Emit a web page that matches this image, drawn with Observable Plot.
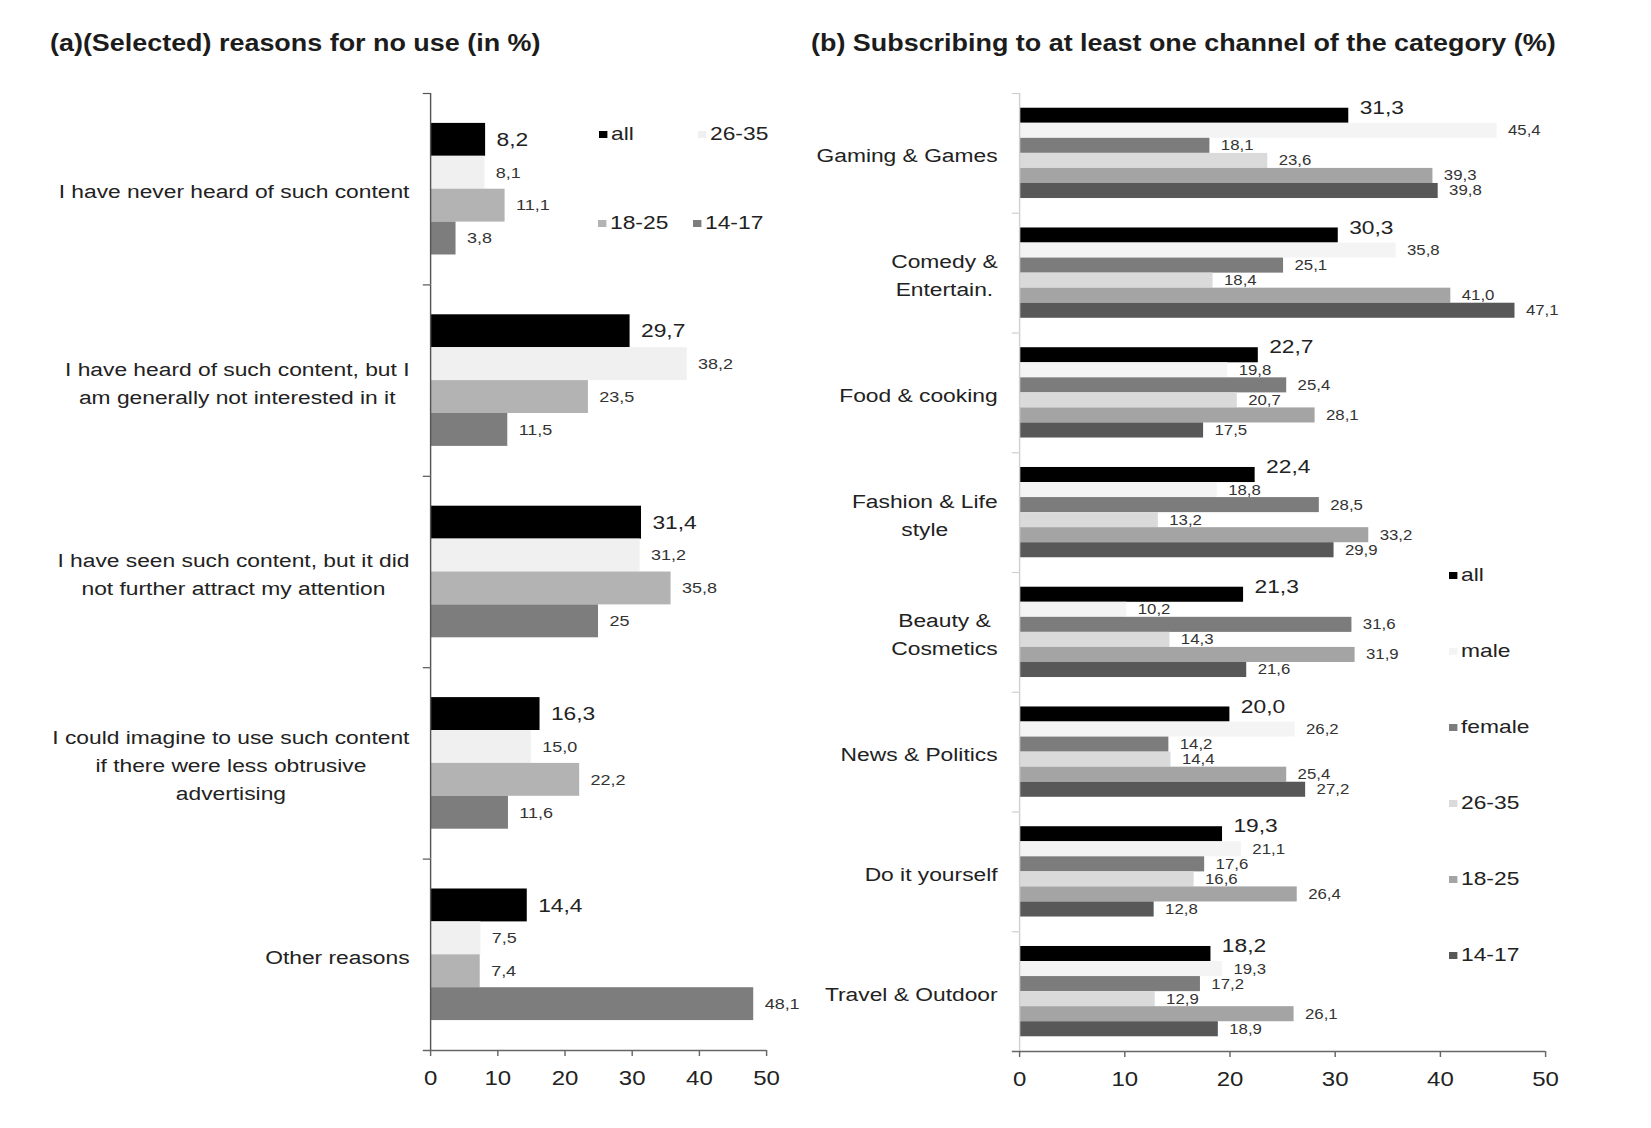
<!DOCTYPE html>
<html>
<head>
<meta charset="utf-8">
<script src="https://cdn.jsdelivr.net/npm/d3@7"></script>
<script src="https://cdn.jsdelivr.net/npm/@observablehq/plot@0.6"></script>
<style>
  body { margin: 0; background: #fff; width: 1651px; height: 1128px; position: relative; overflow: hidden;
         font-family: "Liberation Sans", Arial, sans-serif; }
  .title { position: absolute; font-weight: bold; font-size: 23px; line-height: 26px; color: #1c1c1c;
           white-space: nowrap; transform: scaleX(1.17); transform-origin: 0 50%; }
  .panel { position: absolute; top: 70px; }
  .legend-item { position: absolute; display: flex; align-items: center; height: 22px; margin-top: -11px;
                 font-size: 19px; color: #222; white-space: nowrap; transform: scaleX(1.2); transform-origin: 0 50%; }
  .swatch { width: 7px; height: 7px; margin-right: 3px; }
</style>
</head>
<body>
<div class="title" style="left:50px; top:30px">(a)(Selected) reasons for no use (in %)</div>
<div class="title" style="left:811px; top:30px">(b) Subscribing to at least one channel of the category (%)</div>
<div id="panel-a" class="panel" style="left:0px"></div>
<div id="panel-b" class="panel" style="left:760px"></div>
<script>
// ---- (a) reasons for not watching, by age group (labels as printed, decimal comma)
const reasons = [
  "I have never heard of such content",
  "I have heard of such content, but I\nam generally not interested in it",
  "I have seen such content, but it did\nnot further attract my attention",
  "I could imagine to use such content\nif there were less obtrusive\nadvertising",
  "Other reasons"
];
const reasonGroups = ["all", "26-35", "18-25", "14-17"];
const reasonAll  = ["8,2", "29,7", "31,4", "16,3", "14,4"];
const reason2635 = ["8,1", "38,2", "31,2", "15,0", "7,5"];
const reason1825 = ["11,1", "23,5", "35,8", "22,2", "7,4"];
const reason1417 = ["3,8", "11,5", "25", "11,6", "48,1"];
const reasonColors = ["#000000", "#f0f0f0", "#b3b3b3", "#7d7d7d"];

// ---- (b) subscribing to at least one channel, by gender and age group
const channels = [
  "Gaming & Games", "Comedy &\nEntertain.", "Food & cooking", "Fashion & Life\nstyle",
  "Beauty &\nCosmetics", "News & Politics", "Do it yourself", "Travel & Outdoor"
];
const channelGroups = ["all", "male", "female", "26-35", "18-25", "14-17"];
const chanAll    = ["31,3", "30,3", "22,7", "22,4", "21,3", "20,0", "19,3", "18,2"];
const chanMale   = ["45,4", "35,8", "19,8", "18,8", "10,2", "26,2", "21,1", "19,3"];
const chanFemale = ["18,1", "25,1", "25,4", "28,5", "31,6", "14,2", "17,6", "17,2"];
const chan2635   = ["23,6", "18,4", "20,7", "13,2", "14,3", "14,4", "16,6", "12,9"];
const chan1825   = ["39,3", "41,0", "28,1", "33,2", "31,9", "25,4", "26,4", "26,1"];
const chan1417   = ["39,8", "47,1", "17,5", "29,9", "21,6", "27,2", "12,8", "18,9"];
const channelColors = ["#000000", "#f4f4f4", "#7c7c7c", "#dadada", "#a4a4a4", "#585858"];

const xTicks = [0, 10, 20, 30, 40, 50];

// ---- helpers
const FONT = '"Liberation Sans", Arial, sans-serif';
const STRETCH = 1.2; // the drawing is widened horizontally by this factor
const num = s => +s.replace(",", ".");

function toRows(categories, groups, columns) {
  return categories.flatMap((category, i) =>
    groups.map((group, j) => ({category, group, label: columns[j][i], value: num(columns[j][i])})));
}

const ctx = document.createElement("canvas").getContext("2d");
function blockWidth(text, size) {
  ctx.font = `${size}px ${FONT}`;
  return d3.max(text.split("\n"), line => ctx.measureText(line).width);
}

function drawPanel(target, {rows, categories, groups, colors, widthPx, heightPx, frameLeftPx, frameRightPx,
                            frameTopPx, frameBottomPx, barPx, labelGap, yAxisColor, xAxisColor,
                            smallSize, allLift}) {
  const width = widthPx / STRETCH;
  const innerH = frameBottomPx - frameTopPx;
  const step = innerH / categories.length;
  const gap = step - barPx * groups.length;          // space between two category blocks
  const half = barPx / 2 + gap / 2;                  // bar centre to block edge
  const catSize = 19;
  const last = rows[rows.length - 1];

  const svg = Plot.plot({
    width,
    height: heightPx,
    marginLeft: frameLeftPx / STRETCH,
    marginRight: (widthPx - frameRightPx) / STRETCH,
    marginTop: frameTopPx,
    marginBottom: heightPx - frameBottomPx,
    style: {fontFamily: FONT, background: "transparent", overflow: "visible"},
    x: {domain: [0, 50], label: null},
    y: {domain: groups, paddingInner: 0, paddingOuter: gap / (2 * barPx), round: false, axis: null},
    fy: {domain: categories, padding: 0, round: false, axis: null},
    color: {domain: groups, range: colors},
    marks: [
      // bars
      Plot.barX(rows, {fy: "category", y: "group", x: "value", fill: "group", insetTop: 0, insetBottom: 0}),
      // vertical axis line and category separators
      Plot.ruleX([0], {stroke: yAxisColor, strokeWidth: 1.2}),
      Plot.ruleY([groups[0]], {y: d => d, x1: 0, x2: 0, insetLeft: -6, dy: -half, stroke: yAxisColor, strokeWidth: 1.2}),
      // horizontal axis line under the last block
      Plot.ruleY([last], {fy: "category", y: "group", x1: 0, x2: 50, insetLeft: -6, dy: half,
                          stroke: xAxisColor, strokeWidth: 1.5}),
      Plot.axisX(xTicks, {label: null, tickSize: 6, tickPadding: 14, fontSize: 20, stroke: xAxisColor,
                          fill: "#222", strokeWidth: 1.2}),
      // value labels
      Plot.text(rows.filter(d => d.group === "all"),
        {fy: "category", y: "group", x: "value", text: "label", textAnchor: "start", dx: 9, dy: -allLift,
         fontSize: 19, fill: "#222"}),
      Plot.text(rows.filter(d => d.group !== "all"),
        {fy: "category", y: "group", x: "value", text: "label", textAnchor: "start", dx: 9,
         fontSize: smallSize, fill: "#333"}),
      // category labels, each block centred line by line and right-aligned next to the axis
      ...categories.map(c => Plot.text([c], {
        fy: d => d, text: d => d, frameAnchor: "left", textAnchor: "middle",
        dx: -(labelGap + blockWidth(c, catSize) / 2), fontSize: catSize, lineHeight: 28 / catSize, fill: "#222"
      }))
    ]
  });

  svg.setAttribute("preserveAspectRatio", "none");
  svg.setAttribute("width", widthPx);
  svg.style.width = widthPx + "px";
  svg.style.height = heightPx + "px";
  svg.style.maxWidth = "none";
  target.appendChild(svg);
}

function drawLegend(groups, colors, positions) {
  groups.forEach((g, i) => {
    const item = document.createElement("div");
    item.className = "legend-item";
    item.style.left = positions[i][0] + "px";
    item.style.top = positions[i][1] + "px";
    const sw = document.createElement("span");
    sw.className = "swatch";
    sw.style.background = colors[i];
    item.appendChild(sw);
    item.appendChild(document.createTextNode(g));
    document.body.appendChild(item);
  });
}

drawPanel(document.getElementById("panel-a"), {
  rows: toRows(reasons, reasonGroups, [reasonAll, reason2635, reason1825, reason1417]),
  categories: reasons, groups: reasonGroups, colors: reasonColors,
  widthPx: 800, heightPx: 1050, frameLeftPx: 430, frameRightPx: 766,
  frameTopPx: 23, frameBottomPx: 980, barPx: 32.9, labelGap: 17.5,
  yAxisColor: "#555", xAxisColor: "#666", smallSize: 15, allLift: 0
});

drawPanel(document.getElementById("panel-b"), {
  rows: toRows(channels, channelGroups, [chanAll, chanMale, chanFemale, chan2635, chan1825, chan1417]),
  categories: channels, groups: channelGroups, colors: channelColors,
  widthPx: 891, heightPx: 1050, frameLeftPx: 259, frameRightPx: 785,
  frameTopPx: 23, frameBottomPx: 981, barPx: 15.05, labelGap: 18.3,
  yAxisColor: "#cfcfcf", xAxisColor: "#666", smallSize: 14, allLift: 8
});

drawLegend(reasonGroups, reasonColors, [[599, 134], [698, 134], [598, 223], [693, 223]]);
drawLegend(channelGroups, channelColors, channelGroups.map((g, i) => [1449, 575 + i * 76]));
</script>
</body>
</html>
